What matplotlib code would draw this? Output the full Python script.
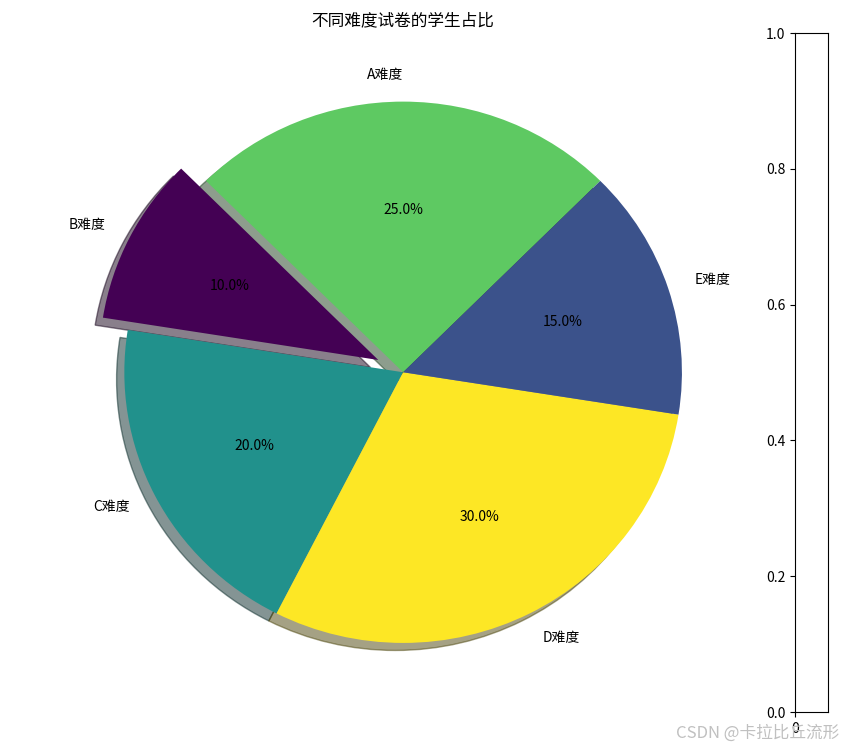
import matplotlib
matplotlib.use("Agg")
import matplotlib.pyplot as plt
import numpy as np

plt.rcParams['font.family'] = ['Noto Sans CJK SC', 'DejaVu Sans']
plt.rcParams['axes.unicode_minus'] = False

# -------- DATA --------
labels = ["A难度", "B难度", "C难度", "D难度", "E难度"]
values = [25, 10, 20, 30, 15]
explode = [0, 0.1, 0, 0, 0]
cbar_ticks = [0.0, 0.2, 0.4, 0.6, 0.8, 1.0]

# colours from viridis, normalised by value
vals = np.array(values, dtype=float)
norm = (vals - vals.min()) / (vals.max() - vals.min())
colors = plt.cm.viridis(norm)

fig = plt.figure(figsize=(8.55, 7.51), dpi=100)

# -------- PIE --------
ax = fig.add_axes([0.0639, 0.0538, 0.8152, 0.901])
ax.pie(values, labels=labels, colors=colors, explode=explode,
       autopct="%1.1f%%", shadow=True, startangle=45,
       textprops={"fontsize": 10})
# reference picture is slightly squashed vertically
ax.set_aspect("auto")
ax.set_title("不同难度试卷的学生占比", fontsize=12)

# -------- EMPTY COLORBAR-LIKE AXES --------
cax = fig.add_axes([0.930, 0.0519, 0.0386, 0.904])
cax.set_ylim(0, 1)
cax.set_xlim(0, 1)
cax.set_yticks(cbar_ticks)
cax.set_xticks([0])

# watermark
fig.text(0.982, 0.024, "CSDN @卡拉比丘流形", ha="right", va="center",
         fontsize=12, color="#c0c0c0")

fig.savefig("out.png", dpi=100)
